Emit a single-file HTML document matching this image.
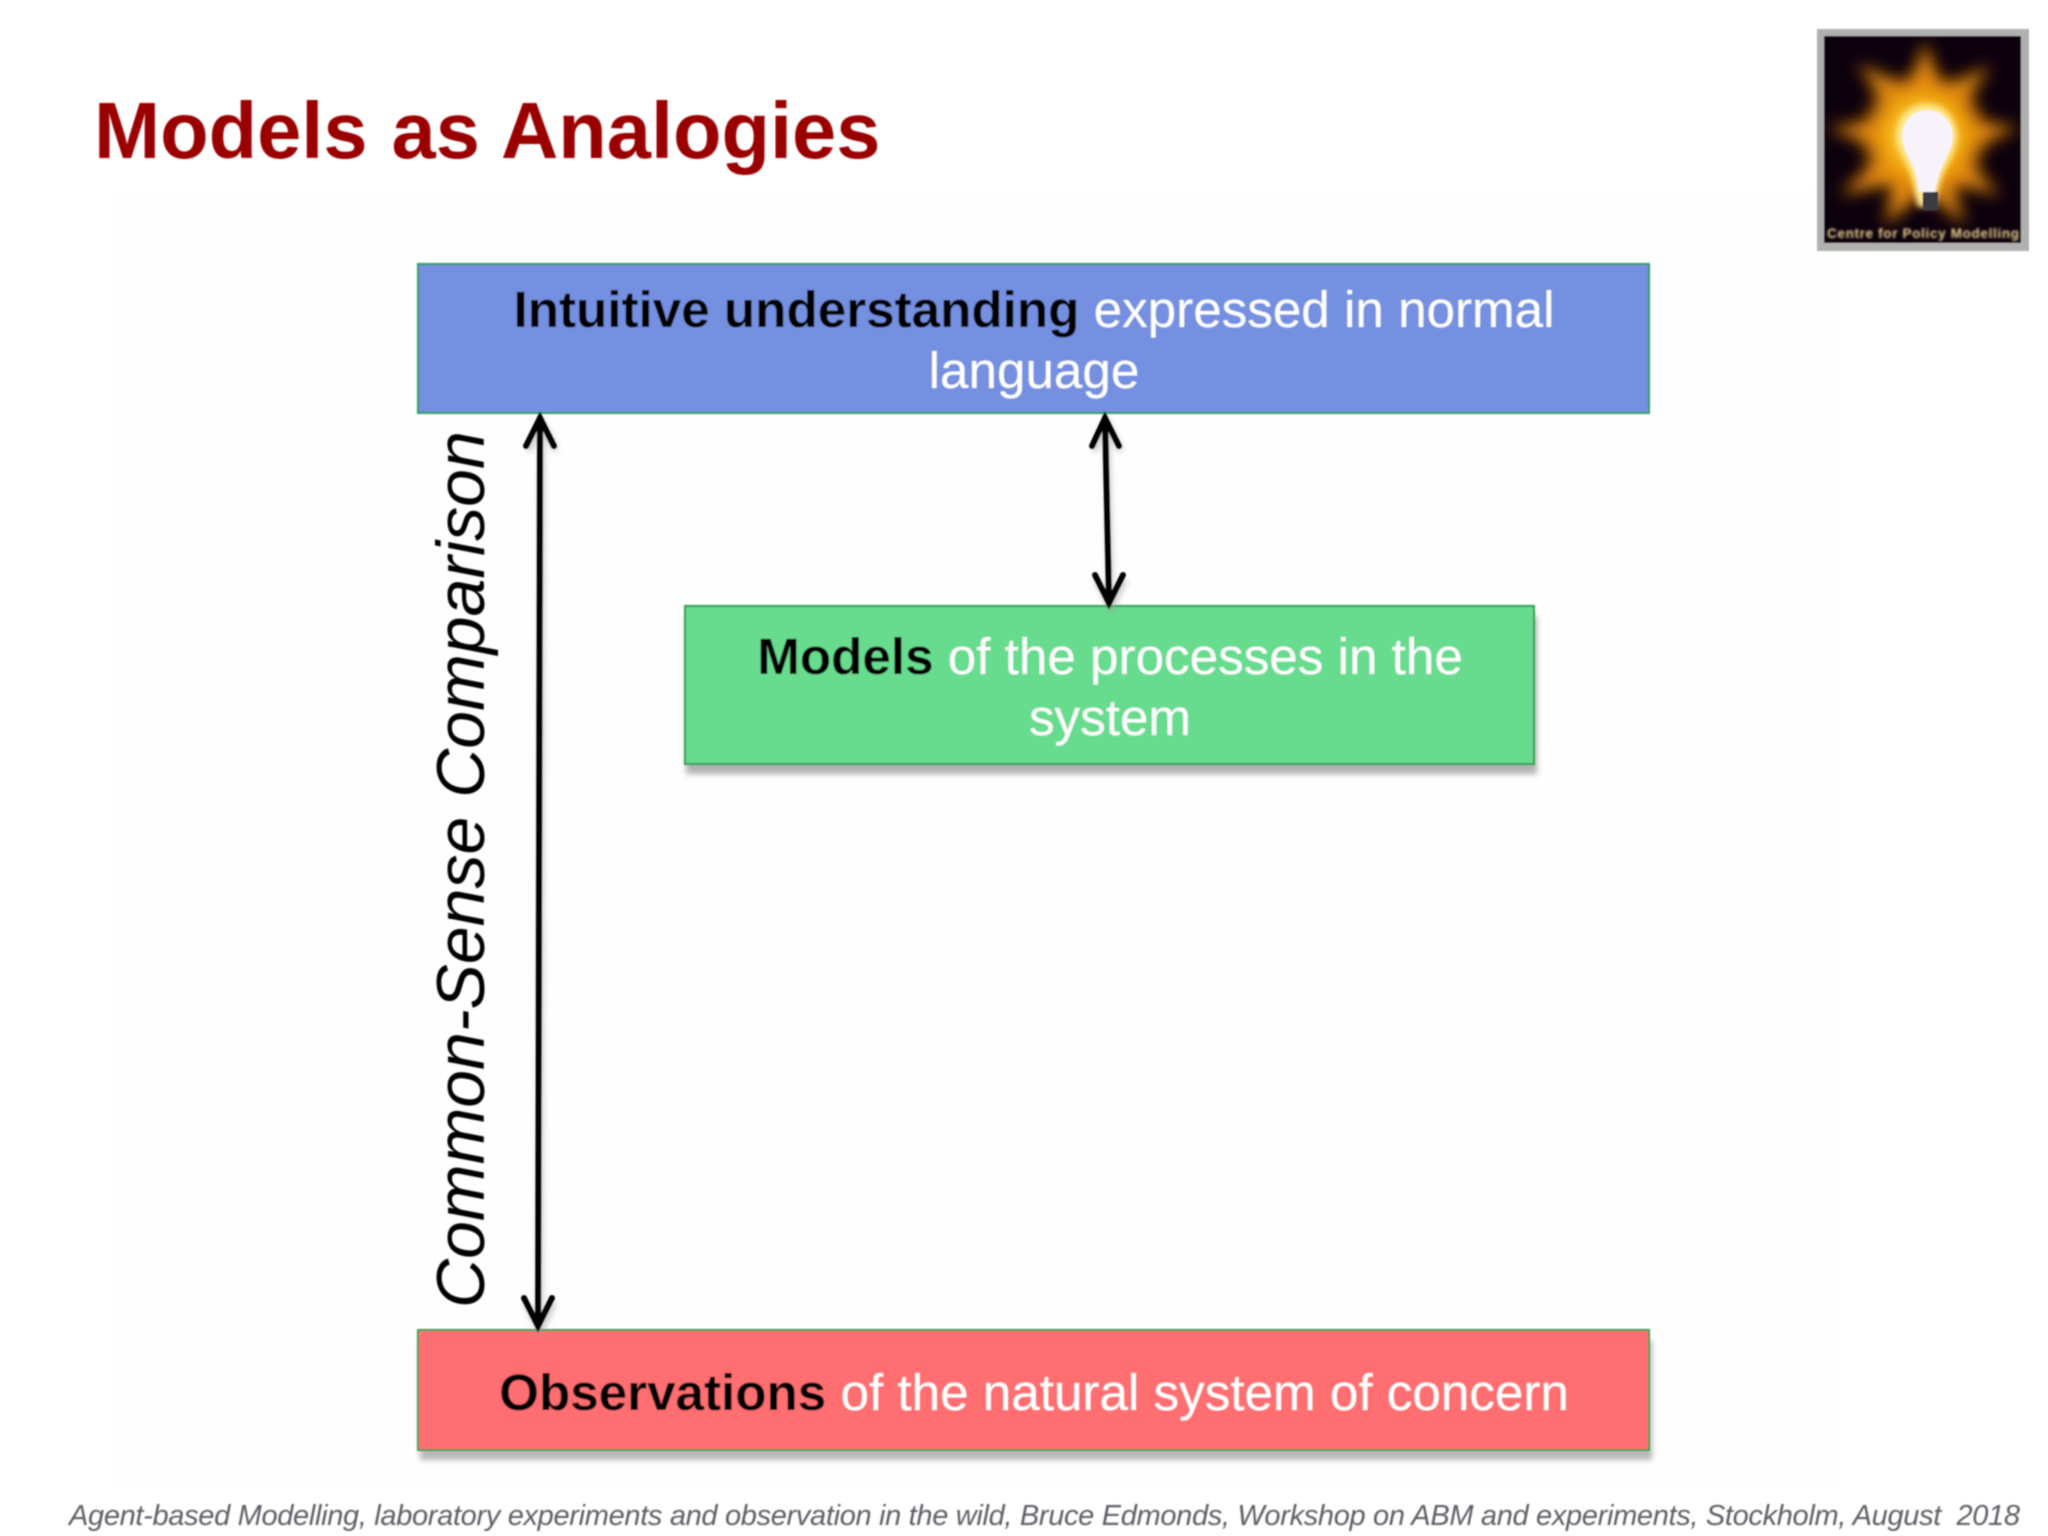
<!DOCTYPE html>
<html lang="en"><head><meta charset="utf-8"><title>Models as Analogies</title>
<style>html,body{margin:0;padding:0;background:#fff;width:2048px;height:1536px;overflow:hidden}svg{display:block}text{font-family:"Liberation Sans",Arial,sans-serif}</style>
</head><body>
<svg width="2048" height="1536" viewBox="0 0 2048 1536" xmlns="http://www.w3.org/2000/svg">
<defs>
<filter id="s" x="-5%" y="-5%" width="110%" height="120%"><feGaussianBlur stdDeviation="3"/></filter>
<filter id="b1" x="-5%" y="-5%" width="110%" height="110%"><feGaussianBlur stdDeviation="0.7"/></filter>
<filter id="b6" x="-30%" y="-30%" width="160%" height="160%"><feGaussianBlur stdDeviation="8"/></filter>
<filter id="b3" x="-30%" y="-30%" width="160%" height="160%"><feGaussianBlur stdDeviation="3"/></filter>
<filter id="b2" x="-10%" y="-50%" width="120%" height="200%"><feGaussianBlur stdDeviation="1.4"/></filter>
<radialGradient id="glow" cx="0.5" cy="0.5" r="0.5"><stop offset="0" stop-color="#ffe050"/><stop offset="0.6" stop-color="#f8b010"/><stop offset="0.85" stop-color="#c87008"/><stop offset="1" stop-color="#5a2a05"/></radialGradient>
</defs>
<rect width="2048" height="1536" fill="#fff"/>
<rect x="110" y="190" width="1730" height="1300" fill="#fefefe"/>
<g filter="url(#b1)">
<text x="94" y="158" font-size="79.4" font-weight="700" fill="#9b0505" word-spacing="2">Models as Analogies</text>

<rect x="418" y="264" width="1231" height="149" fill="#7590e0" stroke="#2e9e5c" stroke-width="2"/>

<rect x="686" y="616" width="851" height="158" fill="#888" opacity=".65" filter="url(#s)"/>
<rect x="685" y="606" width="849" height="158" fill="#68dc8e" stroke="#2e9e55" stroke-width="2"/>

<rect x="420" y="1340" width="1232" height="120" fill="#888" opacity=".6" filter="url(#s)"/>
<rect x="418" y="1330" width="1231" height="120" fill="#ff6e70" stroke="#2e9e55" stroke-width="2"/>

<text x="1034" y="327" font-size="51.2" text-anchor="middle" fill="#fff"><tspan font-weight="700" fill="#000">Intuitive understanding</tspan> expressed in normal</text>
<text x="1034" y="388" font-size="51.2" text-anchor="middle" fill="#fff">language</text>
<text x="1110" y="674" font-size="51.2" text-anchor="middle" fill="#fff"><tspan font-weight="700" fill="#000">Models</tspan> of the processes in the</text>
<text x="1110" y="735" font-size="51.2" text-anchor="middle" fill="#fff">system</text>
<text x="1034" y="1410" font-size="51.2" text-anchor="middle" fill="#fff"><tspan font-weight="700" fill="#000">Observations</tspan> of the natural system of concern</text>

<text transform="translate(484 1308) rotate(-90)" font-size="68" font-style="italic" fill="#000">Common-Sense Comparison</text>

<g stroke="#999" stroke-width="6" fill="none" opacity=".5" filter="url(#b3)" transform="translate(2 5)">
<path d="M540 418L538 1326M526 446L540 418L554 446M524 1298L538 1326L552 1298"/>
<path d="M1105 418L1109 603M1092 446L1105 418L1119 446M1095 575L1109 603L1123 575"/>
</g>
<g stroke="#000" stroke-width="6" fill="none" stroke-linecap="round" stroke-linejoin="miter">
<path d="M540 418L538 1326"/>
<path d="M526 446L540 418L554 446"/>
<path d="M524 1298L538 1326L552 1298"/>
<path d="M1105 418L1109 603"/>
<path d="M1092 446L1105 418L1119 446"/>
<path d="M1095 575L1109 603L1123 575"/>
</g>

<text x="69" y="1525" font-size="29" font-style="italic" fill="#5f5f66" textLength="1951">Agent-based Modelling, laboratory experiments and observation in the wild, Bruce Edmonds, Workshop on ABM and experiments, Stockholm, August&#160; 2018</text>
</g>

<!-- logo -->
<g filter="url(#b1)">
<rect x="1817" y="29" width="212" height="222" fill="#b0b0b0"/>
<rect x="1824" y="36" width="197" height="207" fill="#0a0408"/>
</g>
<svg x="1824" y="36" width="197" height="207" viewBox="1824 36 197 207">
<g filter="url(#b6)">
<circle cx="1924" cy="136" r="62" fill="url(#glow)"/>
<g fill="#e88c10">
<path d="M1908 90L1925 42L1942 90Z"/>
<path d="M1885 105L1858 64L1910 88Z"/>
<path d="M1942 88L1990 66L1962 108Z"/>
<path d="M1882 120L1828 128L1880 148Z"/>
<path d="M1968 120L2018 128L1968 150Z"/>
<path d="M1882 155L1840 195L1905 180Z"/>
<path d="M1962 155L2000 195L1942 180Z"/>
<path d="M1895 175L1885 225L1920 195Z"/>
<path d="M1950 175L1965 225L1930 195Z"/>
</g>
</g>
<g filter="url(#b3)">
<path d="M1927 104c-20 0-31 15-31 32c0 13 9 23 14 37c3 8 4 20 8 34h17c3-14 5-26 9-34c6-14 13-24 13-37c0-17-12-32-30-32Z" fill="#ffe890"/>
</g>
<g filter="url(#b1)">
<path d="M1927 110c-15 0-25 12-25 26c0 12 7 21 12 34c3 7 3 14 5 22h16c2-8 3-15 6-22c5-13 12-22 12-34c0-14-11-26-26-26Z" fill="#f8f2fb"/>
<rect x="1923" y="192" width="15" height="18" fill="#3a3a44"/>
</g>
<text x="1923" y="238" font-size="13.5" font-weight="700" text-anchor="middle" fill="#e8d490" filter="url(#b2)" textLength="192">Centre for Policy Modelling</text>
</svg>
</svg>
</body></html>
